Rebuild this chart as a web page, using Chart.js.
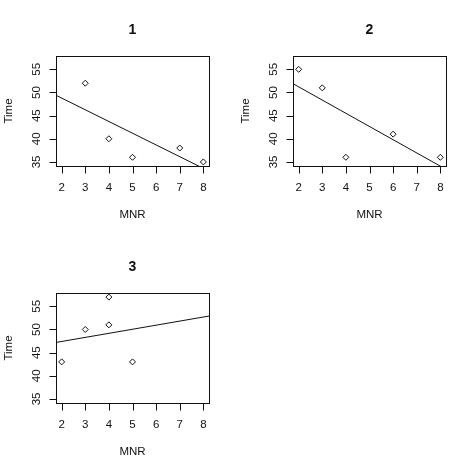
<!DOCTYPE html>
<html>
<head>
<meta charset="utf-8">
<script src="https://cdn.jsdelivr.net/npm/chart.js@4.4.0/dist/chart.umd.min.js"></script>
<style>
  html, body { margin: 0; padding: 0; background: #fff; }
  #wrap { position: relative; width: 474px; height: 473px; overflow: hidden; }
  canvas { position: absolute; }
</style>
</head>
<body>
<div id="wrap">
  <canvas id="c1" width="237" height="237" style="left:0;top:0"></canvas>
  <canvas id="c2" width="237" height="237" style="left:237px;top:0"></canvas>
  <canvas id="c3" width="237" height="237" style="left:0;top:237px"></canvas>
</div>
<script>
// panel data
const mnr1 = [3, 4, 5, 7, 8];
const time1 = [52, 40, 36, 38, 35];
const mnr2 = [2, 3, 4, 6, 8];
const time2 = [55, 51, 36, 41, 36];
const mnr3 = [2, 3, 4, 4, 5];
const time3 = [43, 50, 57, 51, 43];

// fitted lines, ends at the plot edges
const fitX = [1.76, 8.24];
const fit1 = [49.4, 33.0];
const fit2 = [51.9, 33.4];
const fit3 = [47.2, 52.9];

const xTicks = [2, 3, 4, 5, 6, 7, 8];
const yTicks = [35, 40, 45, 50, 55];
const xRange = [1.76, 8.24];
const yRange = [34.12, 57.88];

const ink = '#111';
const font = '"Liberation Sans", Arial, sans-serif';

const rBasePlugin = {
  id: 'rBase',
  afterDraw(chart) {
    const opts = chart.options.plugins.rBase || {};
    const ctx = chart.ctx;
    const area = chart.chartArea;
    const xs = chart.scales.x;
    const ys = chart.scales.y;
    ctx.save();
    ctx.strokeStyle = ink;
    ctx.fillStyle = ink;
    ctx.lineWidth = 1;
    // box
    ctx.strokeRect(Math.round(area.left) + 0.5, Math.round(area.top) + 0.5,
      Math.round(area.right - area.left), Math.round(area.bottom - area.top));
    // x axis
    const xb = Math.round(area.bottom) + 0.5;
    ctx.beginPath();
    xTicks.forEach((t) => {
      const px = Math.round(xs.getPixelForValue(t)) + 0.5;
      ctx.moveTo(px, xb);
      ctx.lineTo(px, xb + 7);
    });
    ctx.stroke();
    ctx.font = '11.5px ' + font;
    ctx.textAlign = 'center';
    ctx.textBaseline = 'middle';
    xTicks.forEach((t) => {
      ctx.fillText(String(t), xs.getPixelForValue(t), area.bottom + 22);
    });
    // y axis
    const yl = Math.round(area.left) + 0.5;
    ctx.beginPath();
    yTicks.forEach((t) => {
      const py = Math.round(ys.getPixelForValue(t)) + 0.5;
      ctx.moveTo(yl, py);
      ctx.lineTo(yl - 7, py);
    });
    ctx.stroke();
    yTicks.forEach((t) => {
      ctx.save();
      ctx.translate(area.left - 19, ys.getPixelForValue(t));
      ctx.rotate(-Math.PI / 2);
      ctx.fillText(String(t), 0, 0);
      ctx.restore();
    });
    const cx = (area.left + area.right) / 2;
    const cy = (area.top + area.bottom) / 2;
    // axis titles
    ctx.fillText('MNR', cx, area.bottom + 49);
    ctx.save();
    ctx.translate(area.left - 47, cy);
    ctx.rotate(-Math.PI / 2);
    ctx.fillText('Time', 0, 0);
    ctx.restore();
    // main title
    ctx.font = 'bold 14px ' + font;
    ctx.fillText(opts.title || '', cx, area.top - 26);
    ctx.restore();
  },
};

function pairs(xv, yv) {
  return xv.map((x, i) => ({ x: x, y: yv[i] }));
}

function makePanel(id, title, xv, yv, fitY) {
  new Chart(document.getElementById(id), {
    type: 'scatter',
    data: {
      datasets: [
        {
          data: pairs(xv, yv),
          pointStyle: 'rectRot',
          pointRadius: 3,
          pointBorderWidth: 1,
          pointBorderColor: ink,
          pointBackgroundColor: 'rgba(0,0,0,0)',
          showLine: false,
        },
        {
          data: pairs(fitX, fitY),
          showLine: true,
          borderColor: ink,
          borderWidth: 1,
          pointRadius: 0,
          clip: 0,
        },
      ],
    },
    options: {
      responsive: false,
      animation: false,
      devicePixelRatio: 1,
      layout: { padding: { left: 56, right: 28, top: 56, bottom: 71 } },
      scales: {
        x: { type: 'linear', min: xRange[0], max: xRange[1], display: false },
        y: { type: 'linear', min: yRange[0], max: yRange[1], display: false },
      },
      plugins: {
        legend: { display: false },
        tooltip: { enabled: false },
        rBase: { title: title },
      },
    },
    plugins: [rBasePlugin],
  });
}

makePanel('c1', '1', mnr1, time1, fit1);
makePanel('c2', '2', mnr2, time2, fit2);
makePanel('c3', '3', mnr3, time3, fit3);
</script>
</body>
</html>
